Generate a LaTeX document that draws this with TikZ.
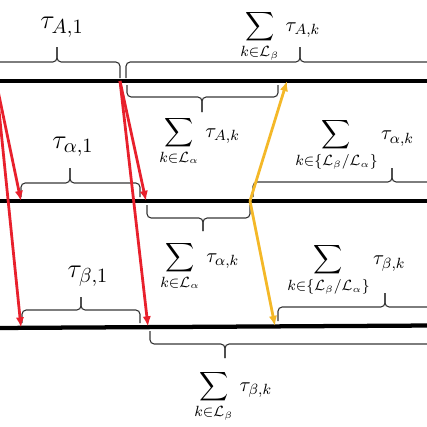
\documentclass[tikz,border=0pt]{standalone}
\usepackage{amsmath}
\usepackage{tikz}
\usetikzlibrary{arrows.meta}
\definecolor{msgred}{RGB}{232,32,44}
\definecolor{msgyellow}{RGB}{244,184,40}
\definecolor{bracegray}{RGB}{55,55,55}
% brace: (left x:right x:tip x:bar y:end y:tip y)
\def\timebrace(#1:#2:#3:#4:#5:#6){\draw[tbrace] (#1,#5) -- (#1,#4) -- (#3,#4) -- (#3,#6); \draw[tbrace] (#3,#6) -- (#3,#4) -- (#2,#4) -- (#2,#5);}

\begin{document}
\begin{tikzpicture}[x=0.019cm, y=-0.019cm,
	tline/.style={line width=2.3pt, black},
	redarrow/.style={line width=1.5pt, color=msgred, -{Latex[length=5.5pt,width=4.5pt]}},
	yelarrow/.style={line width=1.5pt, color=msgyellow, -{Latex[length=5.5pt,width=4.5pt]}},
	tbrace/.style={line width=0.6pt, color=bracegray, rounded corners=0.8mm},
	tlabel/.style={inner sep=0pt, font=\fontsize{15}{18}\selectfont},
	slabel/.style={inner sep=0pt, anchor=west, font=\fontsize{11}{13}\selectfont}]
			%%%%% START %%%%%
			\useasboundingbox (0,0) rectangle (427,427);
			\clip (0,0) rectangle (427,427);
			
			% time lines
			\draw[tline] (-5,81) -- (432,81);
			\draw[tline] (-5,201) -- (432,201);
			\draw[tline] (-5,328) -- (432,325.5);
			
			\coordinate (A0) at (-4,81);
			\coordinate (A1) at (120,81);
			\coordinate (A2) at (287,81);
			\coordinate (M0) at (21,201);
			\coordinate (M1) at (146,201);
			\coordinate (M2) at (250,201);
			\coordinate (B0) at (21,327.5);
			\coordinate (B1) at (148,326.5);
			\coordinate (B2) at (275,326);
			
			% braces
			\timebrace(-10:120:57:62:78:47);
			\timebrace(126:480:300:62:78:47);
			\timebrace(127:278:202:97:85:112);
			\timebrace(21:140:70:183:197:168);
			\timebrace(253:540:392:182:197:168);
			\timebrace(147:250:203:218:205:231);
			\timebrace(22:140:81:310:323:297);
			\timebrace(278:500:385:307:321:293);
			\timebrace(150:500:225:344:331:358);
			
			% labels
			\node[tlabel] (tauA1) at (62,27) {$\tau_{A,1}$};
			\node[slabel] (sumAb) at (240,36) {$\displaystyle\sum_{k\in\mathcal{L}_\beta}\,\tau_{A,k}$};
			\node[slabel] (sumAa) at (159,141) {$\displaystyle\sum_{k\in\mathcal{L}_\alpha}\,\tau_{A,k}$};
			\node[tlabel] (taua1) at (73,147) {$\tau_{\alpha,1}$};
			\node[slabel] (sumab) at (295,145) {$\displaystyle\sum_{k\in\{\mathcal{L}_\beta/\mathcal{L}_\alpha\}}\tau_{\alpha,k}$};
			\node[slabel] (sumaa) at (160,266) {$\displaystyle\sum_{k\in\mathcal{L}_\alpha}\,\tau_{\alpha,k}$};
			\node[tlabel] (taub1) at (88,276) {$\tau_{\beta,1}$};
			\node[slabel] (sumbb) at (287,270) {$\displaystyle\sum_{k\in\{\mathcal{L}_\beta/\mathcal{L}_\alpha\}}\tau_{\beta,k}$};
			\node[slabel] (sumbl) at (194,396) {$\displaystyle\sum_{k\in\mathcal{L}_\beta}\,\tau_{\beta,k}$};
			
			% messages
			\draw[redarrow] (A0) -- (M0);
			\draw[redarrow] (A0) -- (B0);
			\draw[redarrow] (A1) -- (M1);
			\draw[redarrow] (A1) -- (B1);
			\draw[yelarrow] (M2) -- (A2);
			\draw[yelarrow] (M2) -- (B2);
			%%%%% END %%%%%
\end{tikzpicture}
\end{document}
